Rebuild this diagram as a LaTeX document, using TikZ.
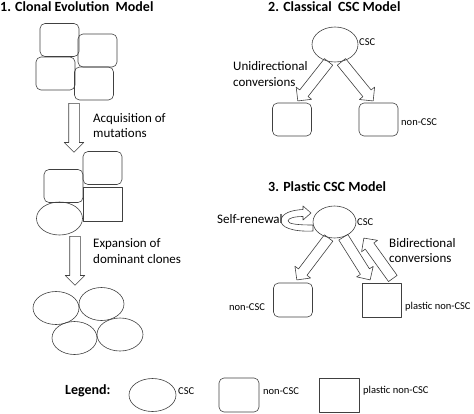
\documentclass[tikz,border=0pt]{standalone}
\usepackage{fontspec}
\setmainfont{Carlito}
\usetikzlibrary{calc,shapes.geometric,shapes.arrows}

\newcommand\blockarrow[2]{%
  \path let \p1=($(#2)-(#1)$), \n1={atan2(\y1,\x1)}, \n2={veclen(\x1,\y1)} in
    (#1) node[conv,minimum height=\n2,rotate=\n1,anchor=tail] {};}

\begin{document}
\begin{tikzpicture}[x=1pt,y=-1pt,line join=round,
    csc/.style={ellipse,draw=black!75,line width=.6pt,minimum width=46pt,minimum height=33pt,inner sep=0pt},
    noncsc/.style={rectangle,rounded corners=5pt,draw=black!75,line width=.6pt,minimum width=39pt,minimum height=33pt,inner sep=0pt},
    plastic/.style={rectangle,draw=black!75,line width=.6pt,minimum width=39pt,minimum height=34pt,inner sep=0pt},
    conv/.style={single arrow,draw=black!75,line width=.6pt,inner sep=5pt,single arrow head extend=4.5pt},
    ttl/.style={anchor=west,inner sep=0pt,font=\bfseries\fontsize{14}{16}\selectfont},
    lbl/.style={anchor=west,align=left,inner sep=0pt,font=\fontsize{13}{15.5}\selectfont},
    tag/.style={anchor=west,inner sep=0pt,font=\fontsize{10.5}{12}\selectfont}]
    \useasboundingbox (0,0) rectangle (474,413);
    % 1. clonal evolution
    \node[ttl] (t1) at (0,7) {1. Clonal Evolution~~Model};
    \node[noncsc] (a1) at (59.5,40) {};
    \node[noncsc] (a2) at (97.5,50.5) {};
    \node[noncsc] (a3) at (55.5,73.5) {};
    \node[noncsc] (a4) at (94,83.5) {};
    \coordinate (m1) at (74,103); \coordinate (m2) at (74,152);
    \blockarrow{m1}{m2}
    \node[lbl] (acq) at (93,125.5) {Acquisition of\\mutations};
    \node[noncsc] (b1) at (102.5,168) {};
    \node[noncsc] (b2) at (63.5,186) {};
    \node[plastic] (b3) at (102.5,204.5) {};
    \node[csc] (b4) at (59.5,218.5) {};
    \coordinate (m3) at (75,236); \coordinate (m4) at (75,285);
    \blockarrow{m3}{m4}
    \node[lbl] (exp) at (93,251) {Expansion of\\dominant clones};
    \node[csc] (c1) at (56,308) {};
    \node[csc,minimum width=45pt] (c2) at (101.5,304) {};
    \node[csc,minimum width=45pt] (c3) at (74.5,338) {};
    \node[csc] (c4) at (120,334.5) {};
    % 2. classical
    \node[ttl] (t2) at (268,7) {2. Classical~~CSC Model};
    \node[csc,minimum height=35pt] (csc2) at (335,44.5) {};
    \node[tag] (l2a) at (359,42) {CSC};
    \node[lbl] (uni) at (233,74) {Unidirectional\\conversions};
    \node[noncsc] (nc2a) at (292,119.5) {};
    \node[noncsc] (nc2b) at (378.5,119.5) {};
    \node[tag] (l2b) at (401,122) {non-CSC};
    \coordinate (u1) at ($(nc2a.north)+(6,-2)$);
    \coordinate (u2) at ($(nc2b.north)+(-5.5,-2)$);
    \blockarrow{csc2.250}{u1}
    \blockarrow{csc2.290}{u2}
    % 3. plastic
    \node[ttl] (t3) at (268,187) {3. Plastic CSC Model};
    \node[csc,minimum width=43pt,minimum height=32pt] (csc3) at (334.5,222) {};
    \node[tag] (l3a) at (357,222) {CSC};
    \node[lbl] (self) at (217,219) {Self-renewal};
    \draw[black!75,line width=.6pt] (313,231) .. controls (292,232) and (280,227) .. (281,220)
        .. controls (282,213) and (292,210) .. (303,209.5) -- (303,206) -- (311,213) -- (303,220) -- (303,216.5)
        .. controls (295,216.5) and (288,218) .. (288,221) .. controls (288,224) and (298,225) .. (313,225) -- cycle;
    \node[lbl] (bid) at (389,250.5) {Bidirectional\\conversions};
    \node[noncsc,minimum height=34pt] (nc3) at (293,300) {};
    \node[plastic] (pl3) at (381.5,300) {};
    \node[tag] (l3b) at (229,307) {non-CSC};
    \node[tag] (l3c) at (405,307) {plastic non-CSC};
    \coordinate (v1) at ($(nc3.north)+(4,-3)$);
    \coordinate (v2) at ($(pl3.north)+(-11.5,-3)$);
    \coordinate (v3) at ($(pl3.north)+(11.5,-4)$);
    \coordinate (v4) at ($(csc3.south)+(29.5,0)$);
    \blockarrow{csc3.250}{v1}
    \blockarrow{csc3.300}{v2}
    \blockarrow{v3}{v4}
    % legend
    \node[ttl] (leg) at (65,391) {Legend:};
    \node[csc,minimum width=47pt] (k1) at (152.5,395) {};
    \node[tag] (k1l) at (178,391) {CSC};
    \node[noncsc,minimum width=40pt,minimum height=34pt] (k2) at (239,395) {};
    \node[tag] (k2l) at (263,391) {non-CSC};
    \node[plastic,minimum width=40pt] (k3) at (339,395) {};
    \node[tag] (k3l) at (363,391) {plastic non-CSC};
\end{tikzpicture}
\end{document}
